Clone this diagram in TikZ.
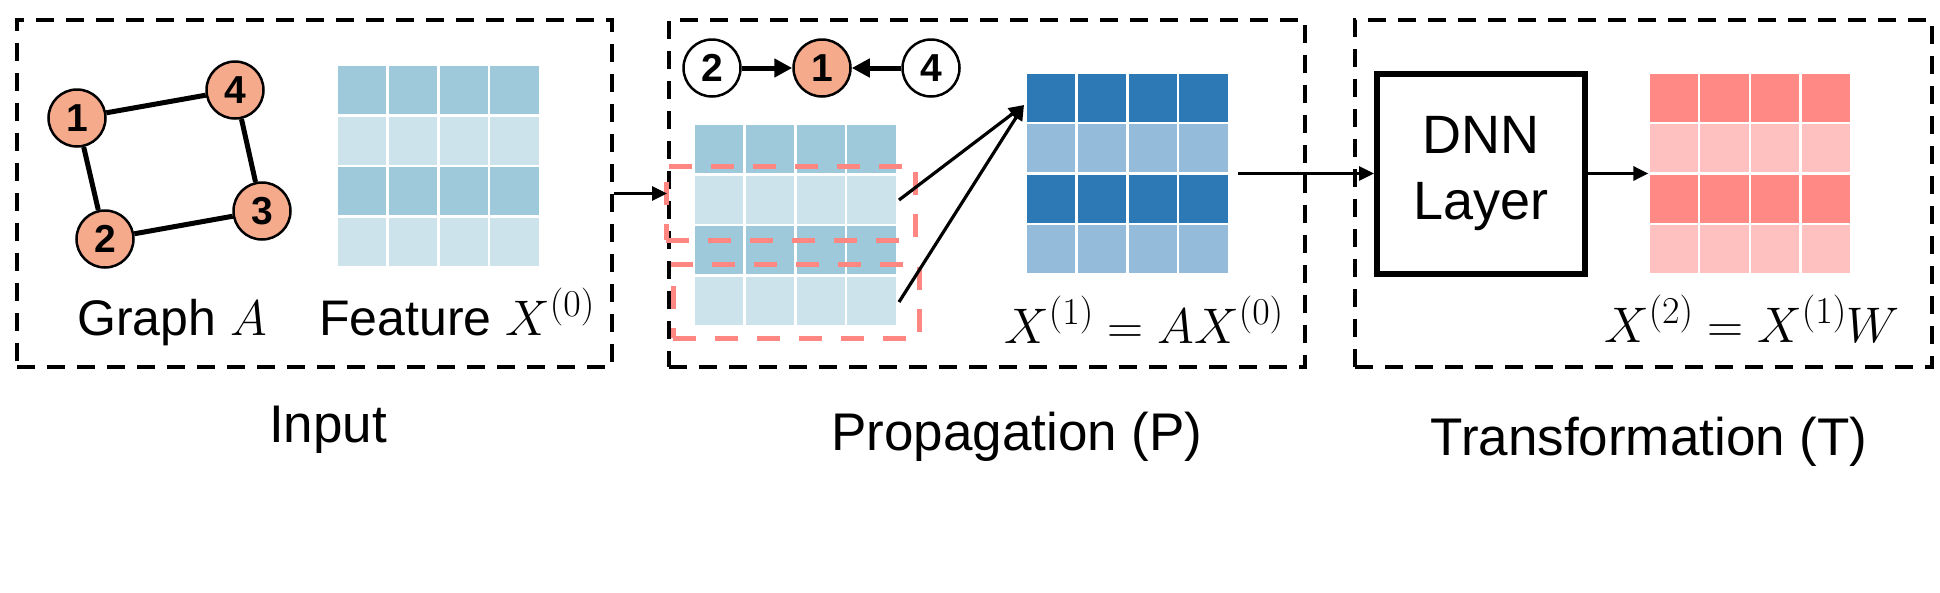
\RequirePackage{fix-cm}
\documentclass[tikz,border=0pt]{standalone}
\usepackage{fontspec}
\setmainfont{Liberation Sans}
\DeclareMathSizes{50}{50}{38}{28}
\usetikzlibrary{arrows.meta,calc}
\definecolor{nodeor}{RGB}{246,170,140}
\definecolor{fdark}{RGB}{157,201,219}
\definecolor{flight}{RGB}{204,227,236}
\definecolor{bdark}{RGB}{44,121,181}
\definecolor{blight}{RGB}{148,187,218}
\definecolor{rdark}{RGB}{255,137,132}
\definecolor{rlight}{RGB}{255,193,192}
\definecolor{rdash}{RGB}{255,135,130}
\tikzset{
 dbox/.style={draw, line width=4pt, dash pattern=on 18pt off 12pt, minimum height=347pt, inner sep=0pt},
 gnode/.style={circle, draw, line width=2.5pt, fill=nodeor, minimum size=57pt, inner sep=0pt, font=\fontsize{39}{39}\selectfont\bfseries},
 wnode/.style={gnode, fill=white},
 gedge/.style={line width=5pt},
 garr/.style={line width=5pt, -{Triangle[length=18pt,width=18pt]}},
 arr/.style={line width=3.2pt, -{Triangle[length=15pt,width=14pt]}},
 matbox/.style={minimum width=203pt, minimum height=202pt, inner sep=0pt},
 reddash/.style={draw=rdash, line width=5pt, dash pattern=on 23pt off 19pt, inner sep=0pt},
 lbl/.style={font=\fontsize{50}{54}\selectfont, inner sep=0pt, anchor=base},
 captxt/.style={font=\fontsize{53}{60}\selectfont, inner sep=0pt, anchor=base},
 dnnbox/.style={draw, line width=6pt, minimum width=208pt, minimum height=200pt, align=center, font=\fontsize{54}{66}\selectfont},
}
\newcommand{\drawmat}[3]{%
 \foreach \r/\col in {0/#2,1/#3,2/#2,3/#3}{
  \foreach \c in {0,...,3}{
   \fill[\col] ($(#1.north west)+(\c*50.75+1.3,\r*50.5+1.3)$) rectangle ++(48.2,47.9);
  }
 }
}
\begin{document}
\begin{tikzpicture}[x=1pt,y=-1pt]
\useasboundingbox[fill=white] (0,0) rectangle (1940,592);
% boxes
\node[dbox, minimum width=595pt] (inbox) at (314.5,193.5) {};
\node[dbox, minimum width=636pt] (pbox) at (987,193.5) {};
\node[dbox, minimum width=577pt] (tbox) at (1643.5,193.5) {};
% input graph
\node[gnode] (g1) at (77,118) {1};
\node[gnode] (g4) at (235,90) {4};
\node[gnode] (g3) at (262,211) {3};
\node[gnode] (g2) at (105,239) {2};
\draw[gedge] (g1)--(g4) (g4)--(g3) (g3)--(g2) (g2)--(g1);
\node[matbox] (fm) at (438.5,166) {};
\drawmat{fm}{fdark}{flight}
\node[lbl] (lg) at (172,335) {Graph $A$};
\node[lbl] (lf) at (457,335) {Feature $X^{(0)}$};
% propagation
\node[wnode] (t2) at (712,68) {2};
\node[gnode] (t1) at (822,68) {1};
\node[wnode] (t4) at (931,68) {4};
\draw[garr] (t2) -- (t1);
\draw[garr] (t4) -- (t1);
\node[matbox] (pm) at (795.5,225) {};
\drawmat{pm}{fdark}{flight}
\node[reddash, minimum width=249pt, minimum height=74pt] (ra) at (790.5,203) {};
\node[reddash, minimum width=246pt, minimum height=74pt] (rb) at (796,301) {};
\node[matbox] (om) at (1127.5,173.5) {};
\drawmat{om}{bdark}{blight}
\coordinate (s1) at (899,200);
\coordinate (s2) at (899,302);
\coordinate (tg) at (1024,105);
\draw[arr] (s1) -- (tg);
\draw[arr] (s2) -- (tg);
\node[lbl] (f1) at (1144,343) {$X^{(1)}=AX^{(0)}$};
% transformation
\node[dnnbox] (dnn) at (1481,173.5) {DNN\\Layer};
\node[matbox] (rm) at (1750,173.5) {};
\drawmat{rm}{rdark}{rlight}
\node[lbl] (f2) at (1752,342) {$X^{(2)}=X^{(1)}W$};
% connectors
\draw[arr] (inbox.east) -- (pbox.west);
\draw[arr] ([xshift=9pt]om.east) -- (dnn.west);
\draw[arr] (dnn.east) -- (rm.west);
% captions
\node[captxt] (c1) at (328,442) {Input};
\node[captxt] (c2) at (1017,450) {Propagation (P)};
\node[captxt] (c3) at (1649,455) {Transformation (T)};
\end{tikzpicture}
\end{document}
